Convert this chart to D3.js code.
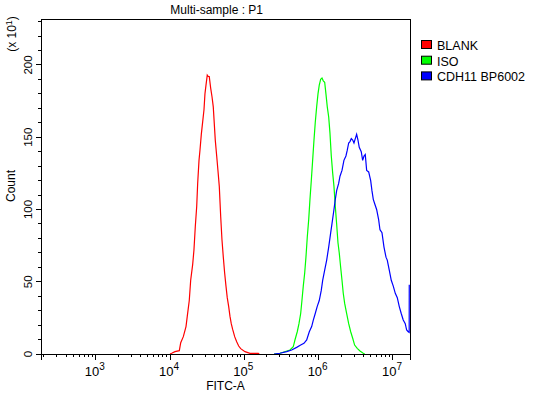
<!DOCTYPE html>
<html><head><meta charset="utf-8">
<script src="https://cdn.jsdelivr.net/npm/d3@7"></script>
<style>body{margin:0;background:#fff}svg{display:block}text{font-family:"Liberation Sans",Arial,sans-serif;fill:#000}</style>
</head><body><svg id="c" width="547" height="393"></svg>
<script>
// FITC-A channel (log10 of value) and count (x10)
const blankLog = [4.00,4.022,4.067,4.125,4.144,4.179,4.215,4.232,4.259,4.278,4.305,4.322,4.340,4.359,4.372,4.390,4.403,4.421,4.440,4.457,4.470,4.484,4.501,4.515,4.528,4.547,4.565,4.582,4.609,4.628,4.645,4.663,4.682,4.699,4.717,4.735,4.753,4.770,4.789,4.807,4.824,4.843,4.870,4.897,4.924,4.951,5.009,5.076,5.188,5.20];
const blankCount = [0,0.5,1.6,2.3,7.8,12,19,26,37,51,62,72,88,102,118,134,141,152,161,169,180,186,193,192,192,184,178,171,148,137,127,116,95,79,67,56,47,39,33,26,21,17,12,8.5,5.5,3.7,1.6,0.5,0.5,0];
const isoLog = [5.40,5.479,5.614,5.658,5.681,5.712,5.735,5.758,5.775,5.793,5.812,5.829,5.847,5.866,5.883,5.901,5.919,5.937,5.954,5.973,5.991,6.008,6.027,6.045,6.062,6.081,6.098,6.116,6.135,6.152,6.170,6.189,6.206,6.224,6.242,6.260,6.277,6.296,6.314,6.331,6.350,6.377,6.404,6.431,6.458,6.484,6.519,6.556,6.600,6.62];
const isoCount = [0,0.5,2.8,5,9.7,15.4,21,28,37,47,56,67,81,93,107,120,134,148,160,171,180,186,190,191,189,188,180,171,164,153,137,125,116,102,90,77,70,60,51,42,35,28,21,15.4,10.9,6.2,3.9,2.1,0.5,0];
const cdhLog = [5.40,5.479,5.570,5.637,5.704,5.758,5.802,5.839,5.874,5.906,5.928,5.954,5.981,6.008,6.035,6.054,6.081,6.108,6.135,6.162,6.179,6.206,6.224,6.242,6.269,6.287,6.314,6.340,6.367,6.385,6.404,6.421,6.439,6.458,6.475,6.493,6.511,6.529,6.546,6.573,6.592,6.610,6.627,6.646,6.673,6.700,6.717,6.735,6.754,6.780,6.807,6.825,6.852,6.879,6.906,6.923,6.950,6.977,7.004,7.031,7.058,7.084,7.111,7.138,7.165,7.184,7.205,7.218,7.219];
const cdhCount = [0,0.5,1.6,2.8,4.6,6.2,7.4,9.7,15.4,19,23.5,28,33,37,44,51,58,65,74,84,90,100,107,113,118,123,127,134,137,141,146,147,149,148,146,149,152,148,143,140,134,137,138,127,126,120,113,107,104,100,93,86,84,74,67,65,58,51,47,42,39,33,28,23.5,21,16.6,15.4,15,48];
const seriesNames = ["BLANK","ISO","CDH11 BP6002"];
const seriesColors = ["#ff0000","#00ff00","#0000ff"];
const xDecades = [3,4,5,6,7];
const yTicks = [0,50,100,150,200];
const title = "Multi-sample : P1";
const xTitle = "FITC-A";
const yTitle = "Count";
const yMult = "(x 10";

const svg = d3.select("#c");
const L = 41, R = 410, T = 19, B = 354;
const x = d3.scaleLog().domain([Math.pow(10,2.264), Math.pow(10,7.229)]).range([L, R]);
const y = d3.scaleLinear().domain([0, 231.8]).range([B, T]);

svg.append("defs").append("clipPath").attr("id","cp").append("rect")
  .attr("x",L).attr("y",T).attr("width",R-L).attr("height",B-T);

const line = d3.line().x(d=>x(Math.pow(10,d[0]))).y(d=>y(d[1]));
const data = [[blankLog,blankCount],[isoLog,isoCount],[cdhLog,cdhCount]];
const g = svg.append("g").attr("clip-path","url(#cp)");
data.forEach((s,i)=>{
  g.append("path").datum(s[0].map((v,j)=>[v,s[1][j]]))
    .attr("d",line).attr("fill","none").attr("stroke",seriesColors[i]).attr("stroke-width",1.2);
});

// frame
const ax = svg.append("g").attr("stroke","#000").attr("stroke-width",1).attr("shape-rendering","crispEdges");
ax.append("line").attr("x1",L).attr("x2",R).attr("y1",B).attr("y2",B);
ax.append("line").attr("x1",L).attr("x2",L).attr("y1",T).attr("y2",B+6);
ax.append("line").attr("x1",L).attr("x2",R).attr("y1",T).attr("y2",T);
ax.append("line").attr("x1",R).attr("x2",R).attr("y1",T).attr("y2",B+6);

// y ticks
d3.range(0,231,10).forEach(v=>{
  const major = v%50===0;
  ax.append("line").attr("x1",L-(major?5:3)).attr("x2",L).attr("y1",y(v)).attr("y2",y(v));
});
yTicks.forEach(v=>{
  svg.append("text").attr("transform",`translate(32,${y(v)}) rotate(-90)`)
    .attr("text-anchor","middle").attr("font-size","11.5px").text(v);
});
// x ticks
const [d0,d1] = x.domain();
for (let e=2;e<=7;e++){
  for (let k=1;k<=9;k++){
    const v = k*Math.pow(10,e);
    if (v<d0||v>d1) continue;
    ax.append("line").attr("x1",x(v)).attr("x2",x(v)).attr("y1",B).attr("y2",B+(k===1?6:3));
  }
}
xDecades.forEach(e=>{
  const t = svg.append("text").attr("x",x(Math.pow(10,e))-1).attr("y",376).attr("text-anchor","middle").attr("font-size","13px");
  t.append("tspan").text("10");
  t.append("tspan").attr("dy",-6).attr("font-size","10px").text(e);
});
svg.append("text").attr("x",(L+R)/2).attr("y",390).attr("text-anchor","middle").attr("font-size","12px").text(xTitle);
svg.append("text").attr("transform",`translate(15,186) rotate(-90)`).attr("text-anchor","middle").attr("font-size","12px").text(yTitle);
const ym = svg.append("text").attr("transform",`translate(16,34) rotate(-90)`).attr("text-anchor","middle").attr("font-size","12px");
ym.append("tspan").text(yMult);
ym.append("tspan").attr("dy",-4).attr("font-size","9px").text("1");
ym.append("tspan").attr("dy",4).text(")");
svg.append("text").attr("x",216.7).attr("y",14).attr("text-anchor","middle").attr("font-size","12px").text(title);

// legend
seriesNames.forEach((n,i)=>{
  const by = 50 + i*15.7;
  svg.append("rect").attr("x",421.5).attr("y",by-9.5).attr("width",10).attr("height",8)
    .attr("fill",seriesColors[i]).attr("stroke","#000").attr("stroke-width",1);
  svg.append("text").attr("x",437).attr("y",by).attr("font-size","12.5px").text(n);
});
</script></body></html>
